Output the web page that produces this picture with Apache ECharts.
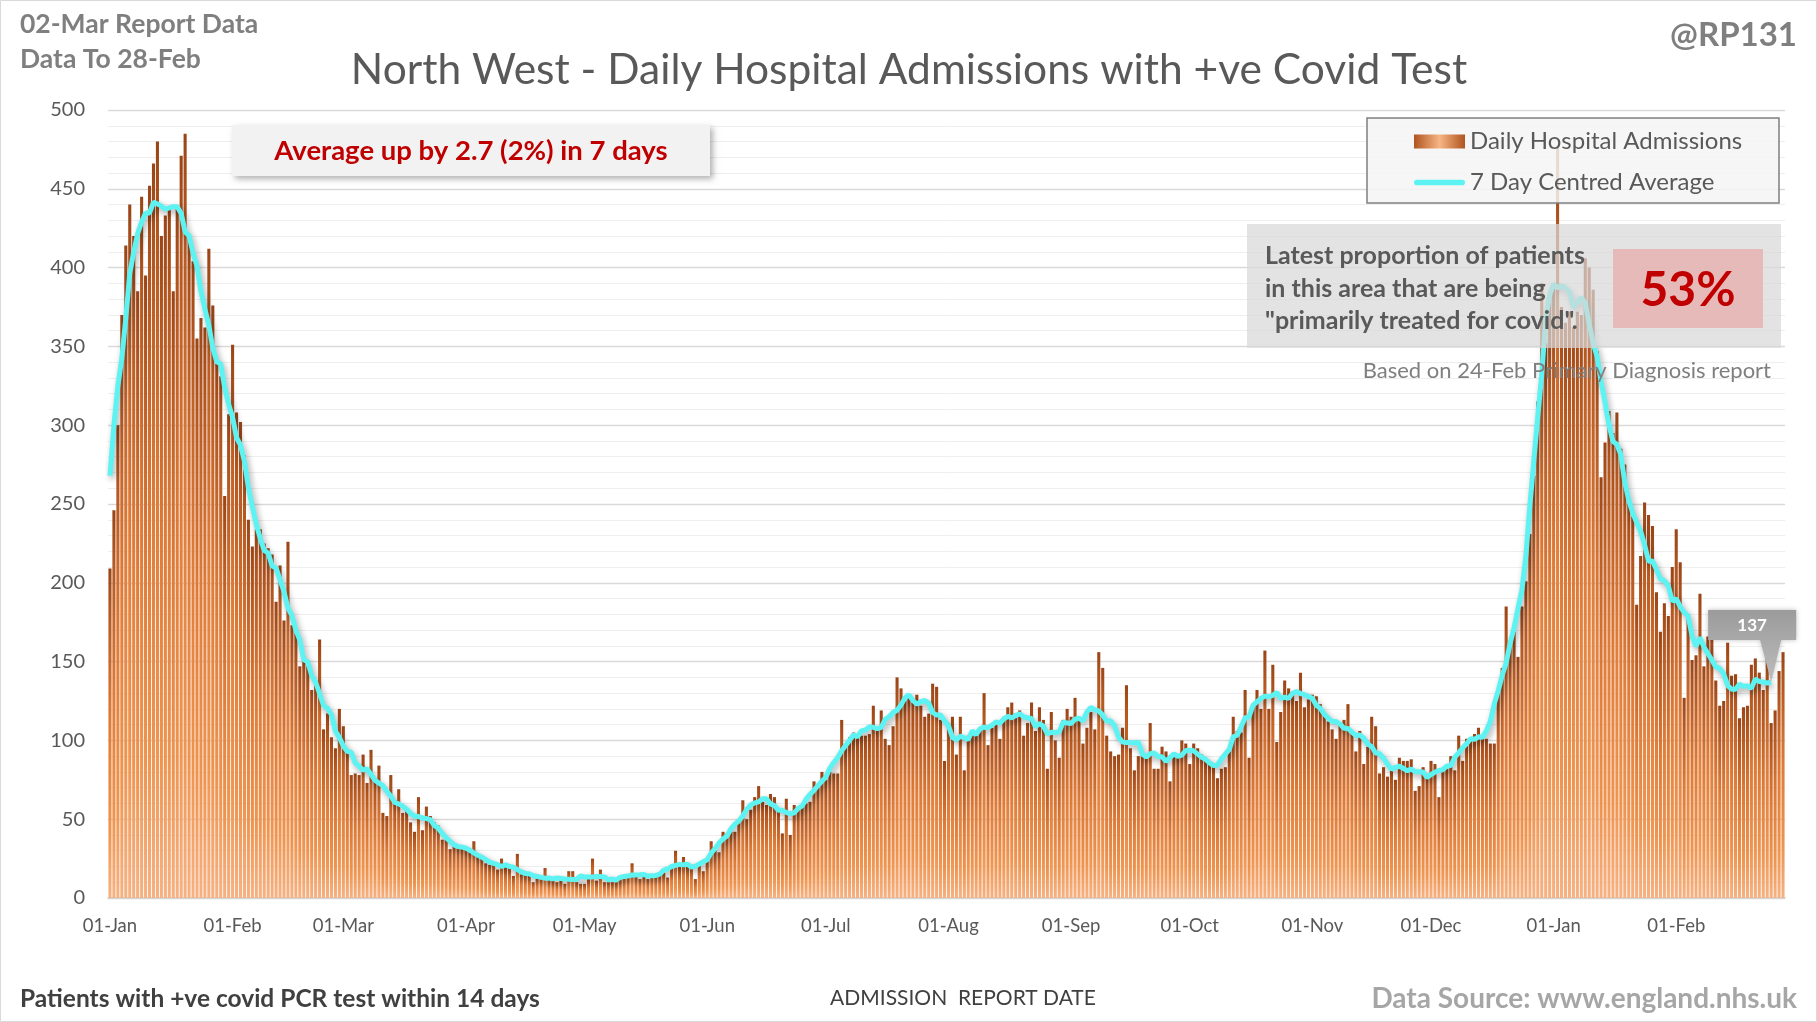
<!DOCTYPE html>
<html><head><meta charset="utf-8">
<script src="https://cdn.jsdelivr.net/npm/echarts@6/dist/echarts.min.js"></script>
<style>html,body{margin:0;padding:0;background:#fff}#chart{width:1817px;height:1022px}</style>
</head><body><div id="chart"></div>
<script>
// Daily hospital admissions (North West), one array per month
const jan2021 = [209,246,300,370,414,440,420,385,445,395,452,466,480,420,433,437,385,439,471,485,420,404,355,368,362,412,376,339,331,255,307];
const feb2021 = [351,308,302,281,240,223,234,234,225,222,218,188,211,176,226,173,168,147,153,147,132,138,164,107,117,102,95,120];
const mar2021 = [109,92,78,79,78,91,73,94,75,84,54,52,78,62,69,54,55,48,42,64,43,58,52,48,46,37,38,31,34,33,32];
const apr2021 = [31,29,36,26,25,22,21,22,18,25,20,20,14,28,15,15,14,10,13,13,19,12,11,10,11,9,17,17,10,9];
const may2021 = [9,12,25,11,18,10,10,10,10,12,14,14,22,14,12,14,12,15,15,15,16,13,20,30,20,26,20,20,12,22,17];
const jun2021 = [24,36,30,29,42,41,42,42,49,62,50,56,64,71,61,59,66,64,56,41,63,40,59,57,58,60,61,74,70,80];
const jul2021 = [75,80,79,79,113,96,102,105,103,103,103,104,122,106,119,101,97,109,140,133,125,129,124,129,122,115,117,136,134,113,87];
const aug2021 = [111,115,91,115,81,103,103,104,107,130,97,108,110,101,115,121,124,117,119,103,111,124,106,121,113,82,118,100,89,113,120];
const sep2021 = [115,127,113,98,108,118,107,156,146,103,93,90,91,108,135,95,81,90,90,90,111,82,82,96,93,74,90,89,100,98];
const oct2021 = [85,98,95,91,87,85,84,76,82,83,93,115,106,105,132,89,121,132,120,157,120,148,99,118,138,133,131,125,143,121,126];
const nov2021 = [129,128,123,117,112,107,101,111,113,123,106,93,106,85,96,115,109,79,83,77,82,75,89,87,87,88,68,71,83,77];
const dec2021 = [87,85,64,81,82,90,81,103,87,101,101,104,108,103,101,98,98,131,146,185,162,169,153,185,201,231,268,315,390,352,383];
const jan2022 = [387,476,375,365,372,362,372,370,406,400,386,347,267,289,309,295,308,285,275,254,242,186,217,251,243,236,194,169,187,179,210];
const feb2022 = [234,213,127,180,151,154,193,147,166,166,138,122,125,162,141,142,114,121,122,148,152,143,132,154,111,119,144,156];
// First points of the 7-day centred average (window reaches into 2020)
const avgLead = [268, 300, 325];
const yTicks = {min: 0, max: 500, step: 50};
const monthNames = ['Jan','Feb','Mar','Apr','May','Jun','Jul','Aug','Sep','Oct','Nov','Dec'];

const daily = [].concat(jan2021,feb2021,mar2021,apr2021,may2021,jun2021,jul2021,aug2021,sep2021,oct2021,nov2021,dec2021,jan2022,feb2022);
const start = Date.UTC(2021,0,1);
const categories = daily.map((_, i) => new Date(start + i*86400000).toISOString().slice(0,10));
function fmtDate(iso){ const d = new Date(iso + 'T00:00:00Z'); return String(d.getUTCDate()).padStart(2,'0') + '-' + monthNames[d.getUTCMonth()]; }
// 7-day centred average of the daily values
const avg = daily.map((v, i) => {
  if (i < avgLead.length) return avgLead[i];
  if (i + 3 >= daily.length) return null;
  let s = 0; for (let k = -3; k <= 3; k++) s += daily[i+k];
  return Math.round(s / 7 * 10) / 10;
});
let lastIdx = avg.length - 1; while (avg[lastIdx] == null) lastIdx--;
const isMonthStart = (idx, val) => val.slice(8) === '01';

const chart = echarts.init(document.getElementById('chart'), null, {renderer: 'canvas'});
const G = echarts.graphic;
const barGrad = new G.LinearGradient(0,0,0,1,[
  {offset:0, color:'#9a4517'},{offset:0.12, color:'#b3561f'},{offset:0.45, color:'#de7a36'},
  {offset:0.8, color:'#ef9550'},{offset:1, color:'#f6b283'}]);
const legendGrad = new G.LinearGradient(0,0,1,0,[
  {offset:0, color:'#b0541e'},{offset:0.5, color:'#f7b586'},{offset:1, color:'#b0541e'}]);
const calloutGrad = new G.LinearGradient(0,0,0,1,[{offset:0,color:'#9b9b9b'},{offset:1,color:'#bdbdbd'}]);
const FF = 'Lato';
const CYAN = '#5ef3f3';
function txt(text, x, y, size, color, weight, align){
  return {type:'text', z:150, style:{text:text, x:x, y:y, fill:color, font:(weight||'normal')+' '+size+'px '+FF,
    textAlign:align||'left', align:align||'left', textVerticalAlign:'middle', verticalAlign:'middle'}};
}

const option = {
  animation:false,
  backgroundColor:'#ffffff',
  textStyle:{fontFamily:FF},
  grid:{left:108, right:32, top:110, bottom:124},
  xAxis:{type:'category', data:categories, boundaryGap:true,
    axisLine:{lineStyle:{color:'#d0d0d0', width:1.5}},
    axisTick:{interval:isMonthStart, length:6, lineStyle:{color:'#bfbfbf'}},
    axisLabel:{interval:isMonthStart, formatter:fmtDate, color:'#595959', fontSize:18.5, margin:19, fontFamily:FF},
    splitLine:{show:false}},
  yAxis:{type:'value', min:yTicks.min, max:yTicks.max, interval:yTicks.step,
    axisLine:{show:false}, axisTick:{show:false},
    axisLabel:{color:'#595959', fontSize:20, margin:23, fontFamily:FF},
    splitLine:{lineStyle:{color:'#d9d9d9', width:1.3}},
    minorTick:{show:false, splitNumber:5},
    minorSplitLine:{show:true, lineStyle:{color:'#eeeeee', width:1}}},
  legend:{left:1409, top:123, orient:'vertical', itemWidth:51, itemHeight:14, itemGap:14, selectedMode:false, z:130,
    textStyle:{fontFamily:FF, fontSize:24, color:'#595959', lineHeight:27},
    data:[{name:'Daily Hospital Admissions', icon:'rect', itemStyle:{color:legendGrad}},
          {name:'7 Day Centred Average', icon:'path://M3,0 H51 A3,3 0 0 1 51,6 H3 A3,3 0 0 1 3,0 Z', itemStyle:{color:CYAN}}]},
  series:[
    {name:'Daily Hospital Admissions', type:'bar', data:daily, barCategoryGap:'22%',
     itemStyle:{color:barGrad}, emphasis:{disabled:true}, z:2},
    {name:'7 Day Centred Average', type:'line', data:avg, symbol:'none', connectNulls:false, z:3,
     itemStyle:{color:CYAN},
     lineStyle:{color:CYAN, width:5, shadowColor:'rgba(0,0,0,0.35)', shadowBlur:6, shadowOffsetX:2, shadowOffsetY:3},
     emphasis:{disabled:true},
     markPoint:{symbol:'path://M0,0 L88,0 L88,30 L73,30 L63,72 L52,30 L0,30 Z', symbolSize:[88,72], symbolOffset:[-19,-36],
       itemStyle:{color:calloutGrad, shadowBlur:5, shadowColor:'rgba(0,0,0,0.25)'},
       label:{show:true, position:'inside', offset:[0,-21], color:'#ffffff', fontSize:17, fontWeight:'bold', fontFamily:FF,
         formatter:p => String(Math.round(p.value))},
       data:[{coord:[categories[lastIdx], avg[lastIdx]], value:avg[lastIdx]}], z:200}}
  ],
  graphic:[
    {type:'rect', z:1, silent:true, shape:{x:0.5,y:0.5,width:1816,height:1021}, style:{fill:'none', stroke:'#d9d9d9', lineWidth:1}},
    txt('02-Mar Report Data', 20, 24, 26.5, '#7f7f7f', 'bold'),
    txt('Data To 28-Feb', 20, 59, 26.5, '#7f7f7f', 'bold'),
    txt('North West - Daily Hospital Admissions with +ve Covid Test', 909, 70, 42.5, '#595959', 'normal', 'center'),
    txt('@RP131', 1797, 35, 33, '#7f7f7f', 'bold', 'right'),
    {type:'rect', z:140, shape:{x:232,y:125,width:478,height:51},
      style:{fill:'#f2f2f2', shadowBlur:6, shadowColor:'rgba(0,0,0,0.3)', shadowOffsetX:3, shadowOffsetY:3}},
    txt('Average up by 2.7 (2%) in 7 days', 471, 151, 27.5, '#c00000', 'bold', 'center'),
    {type:'rect', z:120, shape:{x:1367,y:118,width:412,height:85},
      style:{fill:'rgba(244,244,244,0.85)', stroke:'#7f7f7f', lineWidth:1.5}},
    {type:'rect', z:120, shape:{x:1247,y:224,width:534,height:124},
      style:{fill:'rgba(216,216,216,0.72)'}},
    {type:'rect', z:125, shape:{x:1613,y:249,width:150,height:79}, style:{fill:'rgba(230,183,182,0.95)'}},
    txt('Latest proportion of patients', 1265, 256, 25, '#595959', 'bold'),
    txt('in this area that are being', 1265, 289, 25, '#595959', 'bold'),
    txt('"primarily treated for covid".', 1265, 321, 25, '#595959', 'bold'),
    txt('53%', 1688, 291, 48, '#c00000', 'bold', 'center'),
    txt('Based on 24-Feb Primary Diagnosis report', 1771, 371, 22, '#7f7f7f', 'normal', 'right'),
    txt('Patients with +ve covid PCR test within 14 days', 20, 999, 24.5, '#404040', 'bold'),
    txt('ADMISSION  REPORT DATE', 963, 998, 21, '#404040', 'normal', 'center'),
    txt('Data Source: www.england.nhs.uk', 1797, 999, 28, '#a6a6a6', 'bold', 'right')
  ]
};
chart.setOption(option);
</script></body></html>
